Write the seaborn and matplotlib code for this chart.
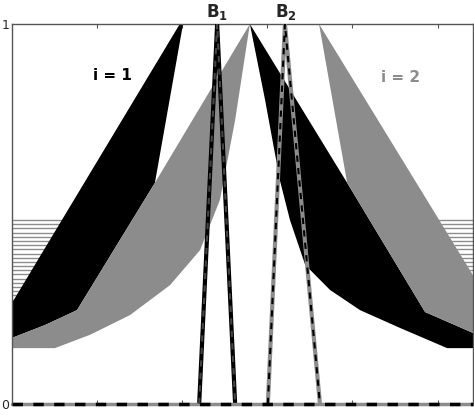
import numpy as np
import pandas as pd
import matplotlib
matplotlib.use("Agg")
import matplotlib.pyplot as plt
import seaborn as sns

sns.set_style("white")
plt.rcParams['font.family'] = ['DejaVu Sans']

BLACK = "#000000"
GRAY = "#8c8c8c"

# region i=1 (black, left)
blk_l_x = [0.364, 0.371, 0.310, 0.141, 0.072, 0.0, 0.0]
blk_l_y = [1.0, 1.0, 0.582, 0.247, 0.208, 0.174, 0.266]
# region i=2 (gray, left)
gry_l_x = [0.516, 0.484, 0.451, 0.408, 0.343, 0.256, 0.169, 0.093, 0.0, 0.0, 0.072, 0.141, 0.310]
gry_l_y = [1.0, 0.747, 0.537, 0.405, 0.313, 0.234, 0.182, 0.147, 0.147, 0.174, 0.208, 0.247, 0.582]
# region i=1 (black, right)
blk_r_x = [0.516, 0.727, 0.896, 1.0, 1.0, 0.944, 0.842, 0.755, 0.690, 0.636, 0.603, 0.581, 0.549]
blk_r_y = [1.0, 0.582, 0.242, 0.187, 0.147, 0.147, 0.200, 0.247, 0.300, 0.366, 0.484, 0.589, 0.800]
# region i=2 (gray, right)
gry_r_x = [0.666, 0.727, 0.896, 1.0, 1.0]
gry_r_y = [1.0, 0.582, 0.242, 0.187, 0.339]

# hatch levels
hatch_left = [0.484, 0.473, 0.462, 0.451, 0.440, 0.429, 0.418, 0.407, 0.396, 0.385,
              0.374, 0.363, 0.352, 0.341, 0.330, 0.319, 0.308, 0.297, 0.286, 0.275]
hatch_right = [0.484, 0.473, 0.462, 0.451, 0.440, 0.429, 0.418, 0.407, 0.396, 0.385,
               0.374, 0.363, 0.352, 0.341]

# membership triangles
b1_x = [0.406, 0.445, 0.484]
b1_y = [0.0, 1.0, 0.0]
b2_x = [0.555, 0.592, 0.668]
b2_y = [0.0, 1.0, 0.0]

fig = plt.figure(figsize=(4.74, 4.15), dpi=100)
ax = fig.add_axes([12/474, 11/415, 461/474, 380/415])

for y in hatch_left:
    xe = np.interp(y, [0.266, 1.0], [0.0, 0.364])
    ax.plot([0, xe], [y, y], color=GRAY, lw=1.0, zorder=1)
for y in hatch_right:
    xs = np.interp(y, [0.339, 1.0], [1.0, 0.666])
    ax.plot([xs, 1], [y, y], color=GRAY, lw=1.0, zorder=1)

ax.fill(blk_l_x, blk_l_y, color=BLACK, lw=0, zorder=2)
ax.fill(gry_l_x, gry_l_y, color=GRAY, lw=0, zorder=2)
ax.fill(blk_r_x, blk_r_y, color=BLACK, lw=0, zorder=2)
ax.fill(gry_r_x, gry_r_y, color=GRAY, lw=0, zorder=2)

d1 = pd.DataFrame({"x": b1_x, "y": b1_y})
d2 = pd.DataFrame({"x": b2_x, "y": b2_y})
sns.lineplot(data=d1, x="x", y="y", sort=False, color=BLACK, lw=3, ax=ax, zorder=4)
sns.lineplot(data=d1, x="x", y="y", sort=False, color="#444444", lw=1.5, ls=(0, (3, 3)), ax=ax, zorder=5)
sns.lineplot(data=d2, x="x", y="y", sort=False, color=GRAY, lw=3, ax=ax, zorder=4)
sns.lineplot(data=d2, x="x", y="y", sort=False, color=BLACK, lw=1.5, ls=(0, (3, 3)), ax=ax, zorder=5)
ax.plot([0, 1], [0, 0], color=GRAY, lw=2.5, zorder=4, clip_on=False)
ax.plot([0, 1], [0, 0], color=BLACK, lw=2.5, ls=(0, (3, 3)), zorder=5, clip_on=False)

ax.text(0.217, 0.865, "i = 1", color=BLACK, fontsize=11, fontweight="bold", ha="center", va="center")
ax.text(0.842, 0.86, "i = 2", color=GRAY, fontsize=11, fontweight="bold", ha="center", va="center")
ax.text(0.445, 1.005, r"$\mathbf{B_1}$", fontsize=12, ha="center", va="bottom", clip_on=False)
ax.text(0.594, 1.005, r"$\mathbf{B_2}$", fontsize=12, ha="center", va="bottom", clip_on=False)

ax.set_xlim(0, 1)
ax.set_ylim(0, 1)
ax.set_xticks([0.184, 0.369, 0.553, 0.737, 0.924])
ax.set_xticklabels([])
ax.set_yticks([0, 1])
ax.set_yticklabels(["0", "1"], fontsize=9)
ax.tick_params(axis="x", direction="in", length=3, top=True, bottom=True, color="#555555")
ax.tick_params(axis="y", direction="in", length=0, pad=2)
ax.set_xlabel("")
ax.set_ylabel("")
for s in ax.spines.values():
    s.set_color("#555555")
    s.set_linewidth(1)

fig.savefig("out.png", dpi=100)
